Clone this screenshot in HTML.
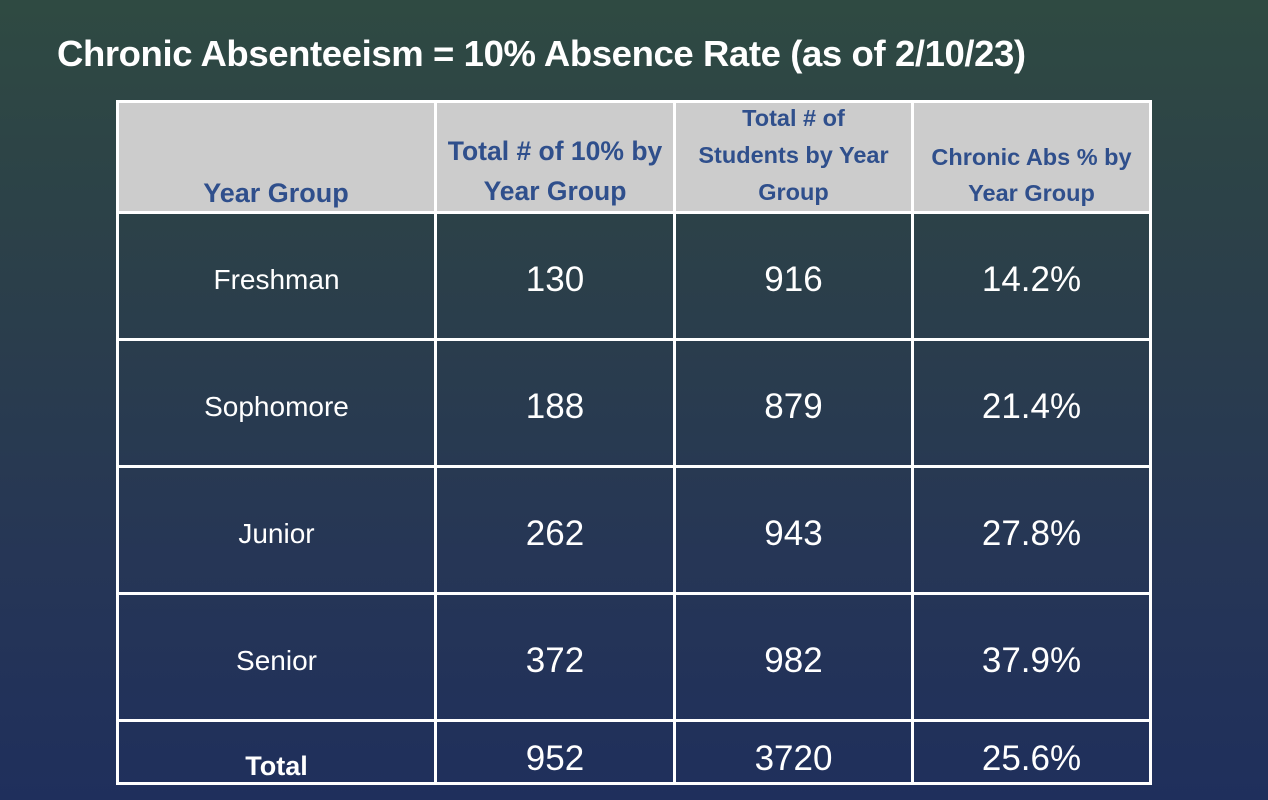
<!DOCTYPE html>
<html><head><meta charset="utf-8"><style>
html,body{margin:0;padding:0}
body{width:1268px;height:800px;overflow:hidden;position:relative;background:linear-gradient(180deg,#2f4a42 0%,#2b3f4a 35%,#263656 70%,#1f2f5c 100%);font-family:"Liberation Sans",sans-serif}
.t{position:absolute;left:57px;top:33px;color:#fff;font-weight:bold;font-size:36.5px;letter-spacing:-0.4px;white-space:nowrap}
.h{position:absolute;background:#fff}
.c{position:absolute;display:flex;align-items:center;justify-content:center;text-align:center;color:#fff}
.hd{color:#2f4f8c;font-weight:bold;background:#cccccc;align-items:flex-end;padding-bottom:0;box-sizing:border-box;line-height:1.3}
</style></head><body>
<div class="t">Chronic Absenteeism = 10% Absence Rate (as of 2/10/23)</div>
<div class="c hd" style="left:118px;top:103px;width:316px;height:108px;font-size:27px">Year Group</div>
<div class="c hd" style="left:437px;top:103px;width:236px;height:108px;font-size:26.5px;line-height:40px;white-space:nowrap">Total # of 10% by<br>Year Group</div>
<div class="c hd" style="left:676px;top:103px;width:235px;height:108px;font-size:23.5px;line-height:37px;white-space:nowrap">Total # of<br>Students by Year<br>Group</div>
<div class="c hd" style="left:914px;top:103px;width:235px;height:108px;font-size:23.5px;line-height:36px;white-space:nowrap">Chronic Abs % by<br>Year Group</div>

<div class="h" style="left:116px;top:100px;width:1036px;height:3px"></div>
<div class="h" style="left:116px;top:211px;width:1036px;height:3px"></div>
<div class="h" style="left:116px;top:338px;width:1036px;height:3px"></div>
<div class="h" style="left:116px;top:465px;width:1036px;height:3px"></div>
<div class="h" style="left:116px;top:592px;width:1036px;height:3px"></div>
<div class="h" style="left:116px;top:719px;width:1036px;height:3px"></div>
<div class="h" style="left:116px;top:782px;width:1036px;height:3px"></div>
<div class="h" style="left:116px;top:100px;width:3px;height:685px"></div>
<div class="h" style="left:434px;top:100px;width:3px;height:685px"></div>
<div class="h" style="left:673px;top:100px;width:3px;height:685px"></div>
<div class="h" style="left:911px;top:100px;width:3px;height:685px"></div>
<div class="h" style="left:1149px;top:100px;width:3px;height:685px"></div>

<div class="c" style="left:119px;top:218px;width:315px;height:124px;font-size:28px">Freshman</div>
<div class="c" style="left:437px;top:218px;width:236px;height:124px;font-size:35px">130</div>
<div class="c" style="left:676px;top:218px;width:235px;height:124px;font-size:35px">916</div>
<div class="c" style="left:914px;top:218px;width:235px;height:124px;font-size:35px">14.2%</div>

<div class="c" style="left:119px;top:345px;width:315px;height:124px;font-size:28px">Sophomore</div>
<div class="c" style="left:437px;top:345px;width:236px;height:124px;font-size:35px">188</div>
<div class="c" style="left:676px;top:345px;width:235px;height:124px;font-size:35px">879</div>
<div class="c" style="left:914px;top:345px;width:235px;height:124px;font-size:35px">21.4%</div>

<div class="c" style="left:119px;top:472px;width:315px;height:124px;font-size:28px">Junior</div>
<div class="c" style="left:437px;top:472px;width:236px;height:124px;font-size:35px">262</div>
<div class="c" style="left:676px;top:472px;width:235px;height:124px;font-size:35px">943</div>
<div class="c" style="left:914px;top:472px;width:235px;height:124px;font-size:35px">27.8%</div>

<div class="c" style="left:119px;top:599px;width:315px;height:124px;font-size:28px">Senior</div>
<div class="c" style="left:437px;top:599px;width:236px;height:124px;font-size:35px">372</div>
<div class="c" style="left:676px;top:599px;width:235px;height:124px;font-size:35px">982</div>
<div class="c" style="left:914px;top:599px;width:235px;height:124px;font-size:35px">37.9%</div>

<div class="c" style="left:119px;top:745px;width:315px;height:42px;font-size:27px;font-weight:bold">Total</div>
<div class="c" style="left:437px;top:734px;width:236px;height:50px;font-size:35px">952</div>
<div class="c" style="left:676px;top:734px;width:235px;height:50px;font-size:35px">3720</div>
<div class="c" style="left:914px;top:734px;width:235px;height:50px;font-size:35px">25.6%</div>
</body></html>
